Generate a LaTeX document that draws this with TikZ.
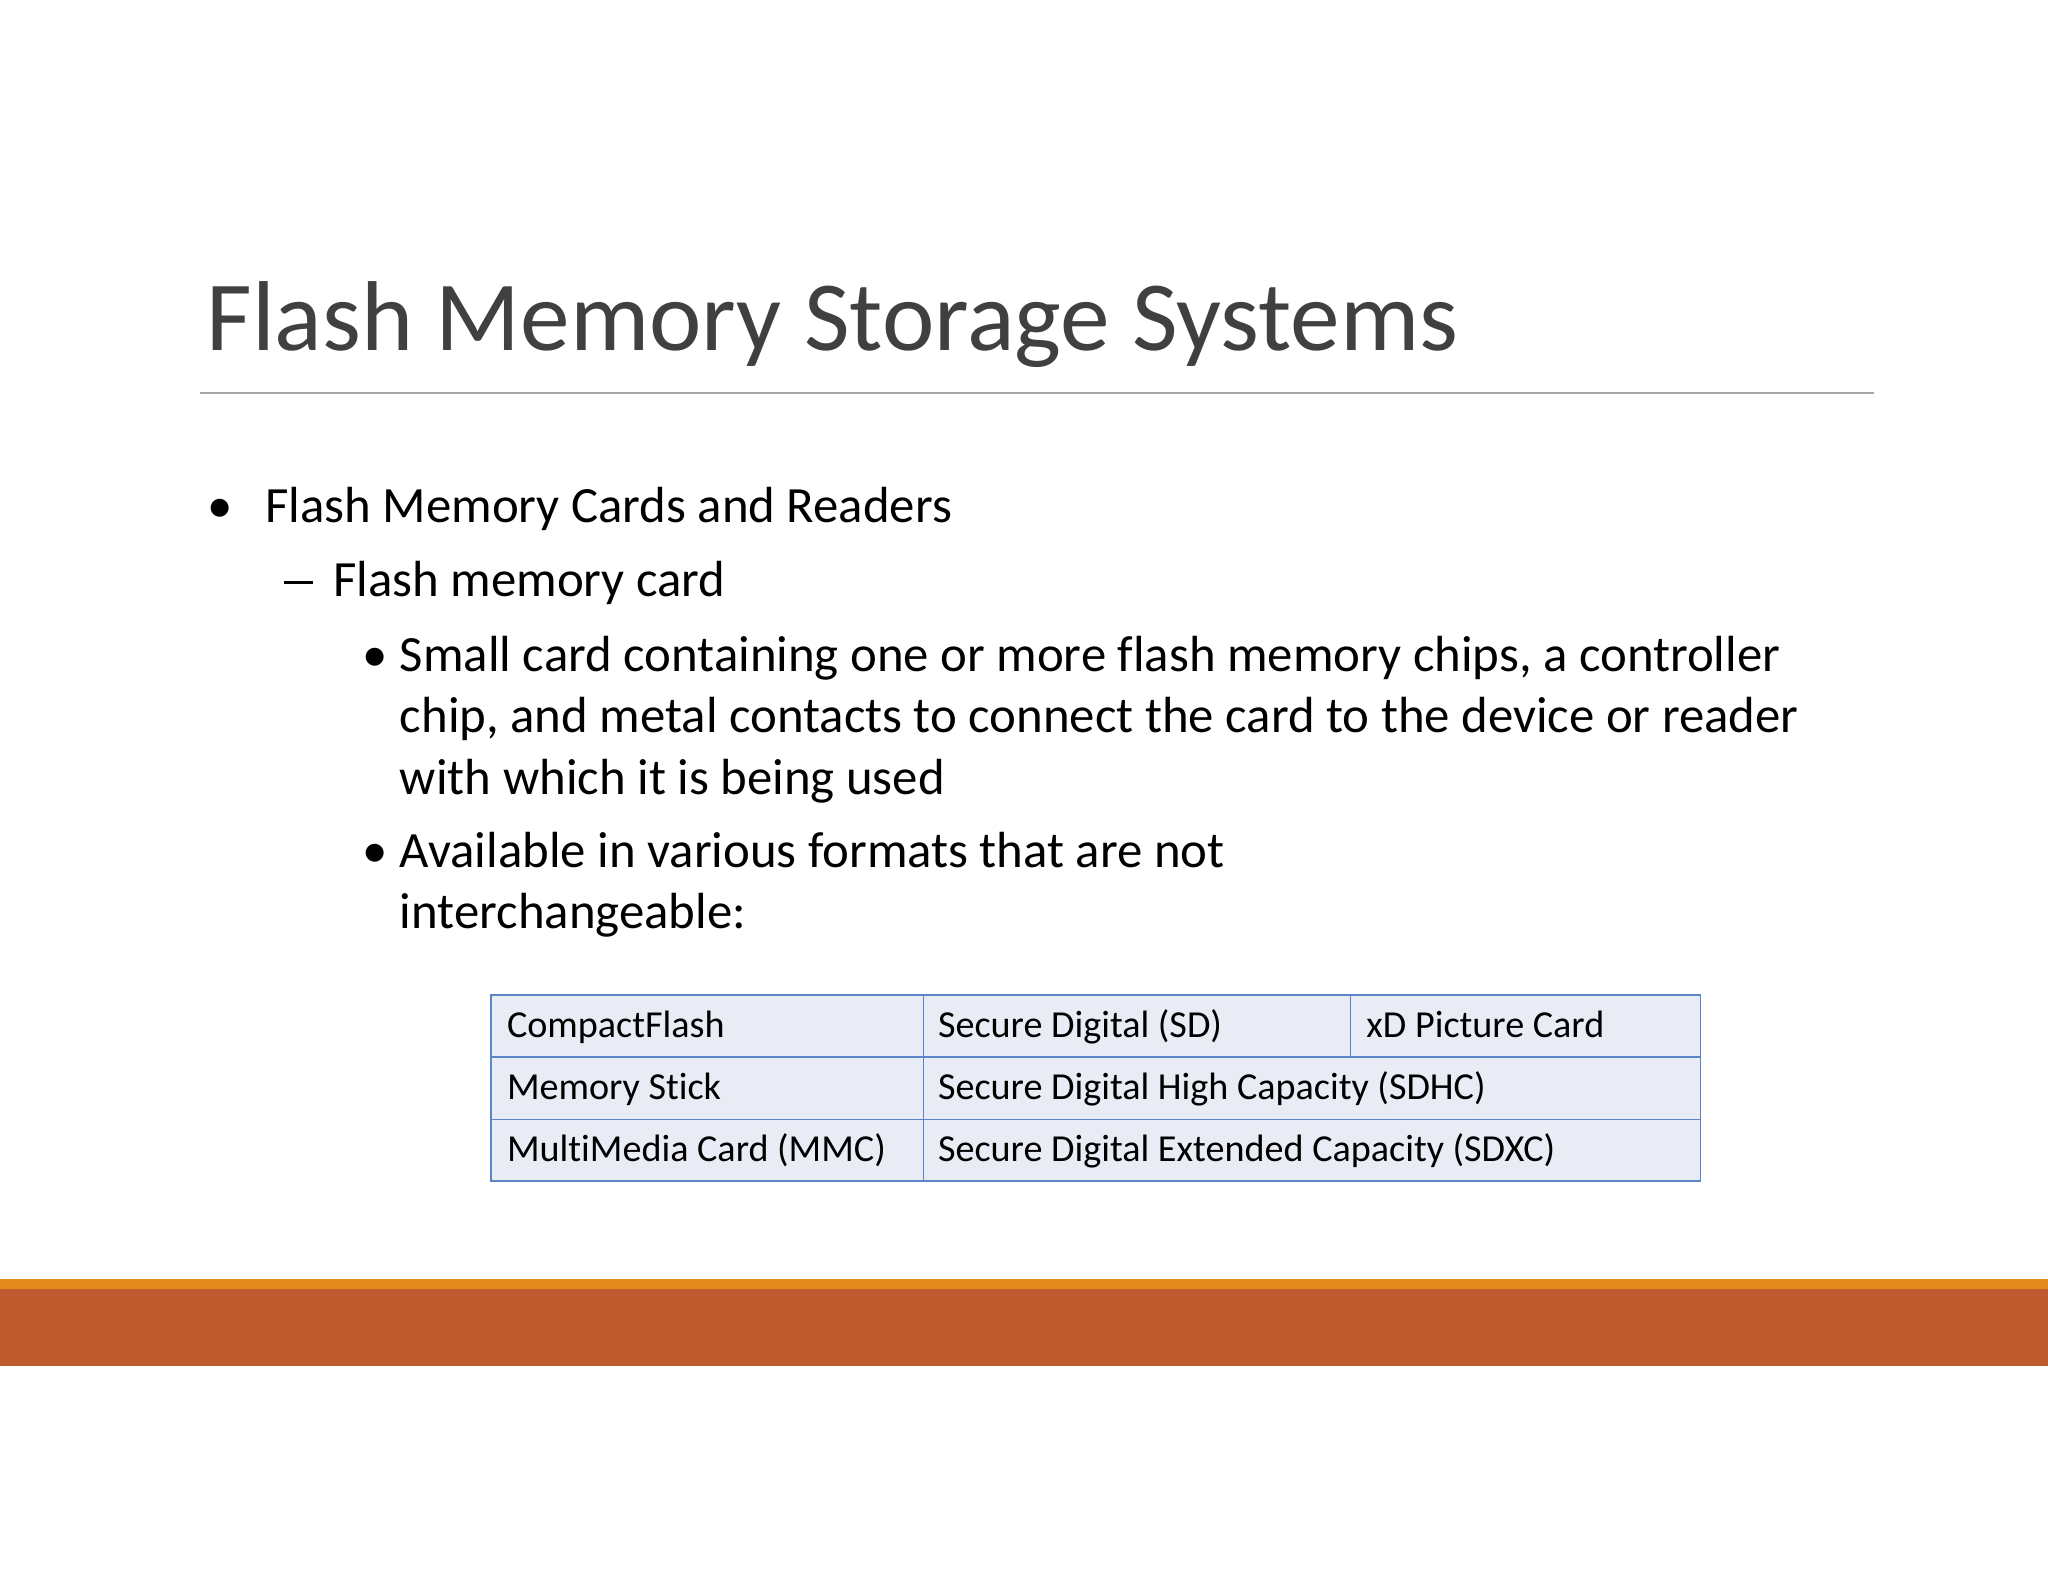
\documentclass[tikz,border=0pt]{standalone}
\usepackage{fontspec}
\setmainfont{Carlito}[Ligatures=NoCommon]
\definecolor{tgray}{HTML}{404040}
\definecolor{tfill}{HTML}{E9ECF4}
\definecolor{tline}{HTML}{5B85C6}
\definecolor{band1}{HTML}{E48A1C}
\definecolor{band2}{HTML}{BE5A2D}
\begin{document}
\begin{tikzpicture}[x=1pt,y=-1pt,
  txt/.style={anchor=base west,inner sep=0pt,font=\fontsize{38.9}{42}\selectfont,text=black},
  cell/.style={anchor=base west,inner sep=0pt,font=\fontsize{29.2}{32}\selectfont,text=black}]
\useasboundingbox (0,0) rectangle (1568,1211);
\fill[white] (0,0) rectangle (1568,1211);
\node[anchor=base west,inner sep=0pt,font=\fontsize{76}{80}\selectfont,text=tgray] (title) at (158,268) {Flash Memory Storage Systems};
\draw[gray!70,line width=1.2] (153,301) -- (1435,301);
\node[txt] (b1) at (159,400) {•};
\node[txt] (t1) at (203,400) {Flash Memory Cards and Readers};
\node[txt] (d1) at (217,457) {\rule[0.26em]{0.58em}{0.06em}};
\node[txt] (t2) at (255,457) {Flash memory card};
\node[txt] (b2) at (277,514) {•};
\node[txt] (t3) at (306,514) {Small card containing one or more flash memory chips, a controller};
\node[txt] (t4) at (306,561) {chip, and metal contacts to connect the card to the device or reader};
\node[txt] (t5) at (306,608) {with which it is being used};
\node[txt] (b3) at (277,664) {•};
\node[txt] (t6) at (306,664) {Available in various formats that are not};
\node[txt] (t7) at (306,711) {interchangeable:};
\fill[tfill] (376,762) rectangle (1302,904);
\draw[tline,line width=1.3] (376,762) rectangle (1302,904)
  (376,809) -- (1302,809) (376,857) -- (1302,857)
  (707,762) -- (707,904) (1034,762) -- (1034,809);
\node[cell] (c11) at (388,794) {CompactFlash};
\node[cell] (c12) at (718,794) {Secure Digital (SD)};
\node[cell] (c13) at (1046,794) {xD Picture Card};
\node[cell] (c21) at (388,842) {Memory Stick};
\node[cell] (c22) at (718,842) {Secure Digital High Capacity (SDHC)};
\node[cell] (c31) at (388,889) {MultiMedia Card (MMC)};
\node[cell] (c32) at (718,889) {Secure Digital Extended Capacity (SDXC)};
\fill[band1] (0,979) rectangle (1568,988);
\fill[band2] (0,987) rectangle (1568,1046);
\end{tikzpicture}
\end{document}
